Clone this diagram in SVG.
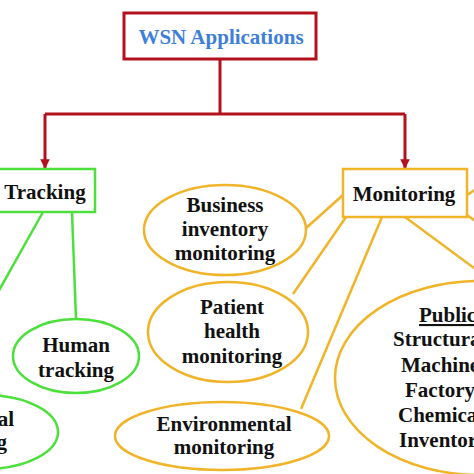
<svg xmlns="http://www.w3.org/2000/svg" width="474" height="474" viewBox="0 0 474 474">
<style>
  text { font-family: "Liberation Serif", "Times New Roman", serif; font-weight: bold; font-size: 21px; fill: #111; text-anchor: middle; }
  .red { stroke: #b3121c; stroke-width: 3; fill: none; }
  .grn { stroke: #4ddf3c; stroke-width: 2.5; fill: #fff; }
  .org { stroke: #f0b429; stroke-width: 2.5; fill: #fff; }
  .gl { stroke: #4ddf3c; stroke-width: 2.5; fill: none; }
  .ol { stroke: #f0b429; stroke-width: 2.5; fill: none; }
</style>
<defs>
  <marker id="arr" viewBox="0 0 10 10" refX="9" refY="5" markerWidth="3.2" markerHeight="3.2" orient="auto" markerUnits="strokeWidth">
    <path d="M0,0 L10,5 L0,10 z" fill="#b3121c"/>
  </marker>
</defs>
<rect width="474" height="474" fill="#fff"/>
<g id="connectors">
  <path class="red" d="M220,59 V114"/>
  <path class="red" d="M45,114 H405"/>
  <path class="red" d="M45,114 V168" marker-end="url(#arr)"/>
  <path class="red" d="M405,114 V168" marker-end="url(#arr)"/>
  <line class="gl" x1="43" y1="212" x2="-3" y2="294"/>
  <line class="gl" x1="72" y1="212" x2="76" y2="319"/>
  <line class="ol" x1="343" y1="195" x2="305" y2="229"/>
  <line class="ol" x1="346" y1="217" x2="293" y2="294"/>
  <line class="ol" x1="382" y1="217" x2="301" y2="409"/>
  <line class="ol" x1="405" y1="217" x2="478" y2="271"/>
  <line class="ol" x1="467" y1="195" x2="478" y2="188"/>
  <line class="ol" x1="467" y1="215" x2="478" y2="223"/>
</g>
<g id="wsn">
  <rect x="124" y="13" width="192" height="46" fill="#fff" stroke="#b3121c" stroke-width="3"/>
  <text x="221" y="44" style="fill:#3e7fd9">WSN Applications</text>
</g>
<g id="tracking">
  <rect x="-5" y="169" width="100" height="43" class="grn"/>
  <text x="45" y="199">Tracking</text>
</g>
<g id="monitoring">
  <rect x="343" y="169" width="124" height="48" class="org" stroke-width="3"/>
  <text x="404" y="201">Monitoring</text>
</g>
<g id="human-tracking">
  <ellipse cx="76" cy="356" rx="63" ry="37" class="grn"/>
  <text x="76" y="352">Human</text>
  <text x="76" y="377">tracking</text>
</g>
<g id="left-tracking">
  <ellipse cx="-15" cy="432" rx="73" ry="37" class="grn"/>
  <text x="14" y="426" style="text-anchor:end">al</text>
  <text x="7" y="449" style="text-anchor:end">g</text>
</g>
<g id="business">
  <ellipse cx="225" cy="230" rx="81" ry="45" class="org"/>
  <text x="225" y="212">Business</text>
  <text x="225" y="236">inventory</text>
  <text x="225" y="260">monitoring</text>
</g>
<g id="patient">
  <ellipse cx="228" cy="332" rx="80" ry="50" class="org"/>
  <text x="232" y="314">Patient</text>
  <text x="232" y="338">health</text>
  <text x="232" y="363">monitoring</text>
</g>
<g id="environmental">
  <ellipse cx="222" cy="436" rx="107" ry="34" class="org"/>
  <text x="224" y="431">Environmental</text>
  <text x="224" y="454">monitoring</text>
</g>
<g id="public">
  <ellipse cx="480" cy="378" rx="145" ry="97" class="org"/>
  <text x="419" y="322" style="text-anchor:start;text-decoration:underline">Public</text>
  <text x="393" y="346" style="text-anchor:start">Structura</text>
  <text x="401" y="372" style="text-anchor:start">Machine</text>
  <text x="405" y="397" style="text-anchor:start">Factory</text>
  <text x="398" y="422" style="text-anchor:start">Chemica</text>
  <text x="399" y="447" style="text-anchor:start">Inventor</text>
</g>
</svg>
